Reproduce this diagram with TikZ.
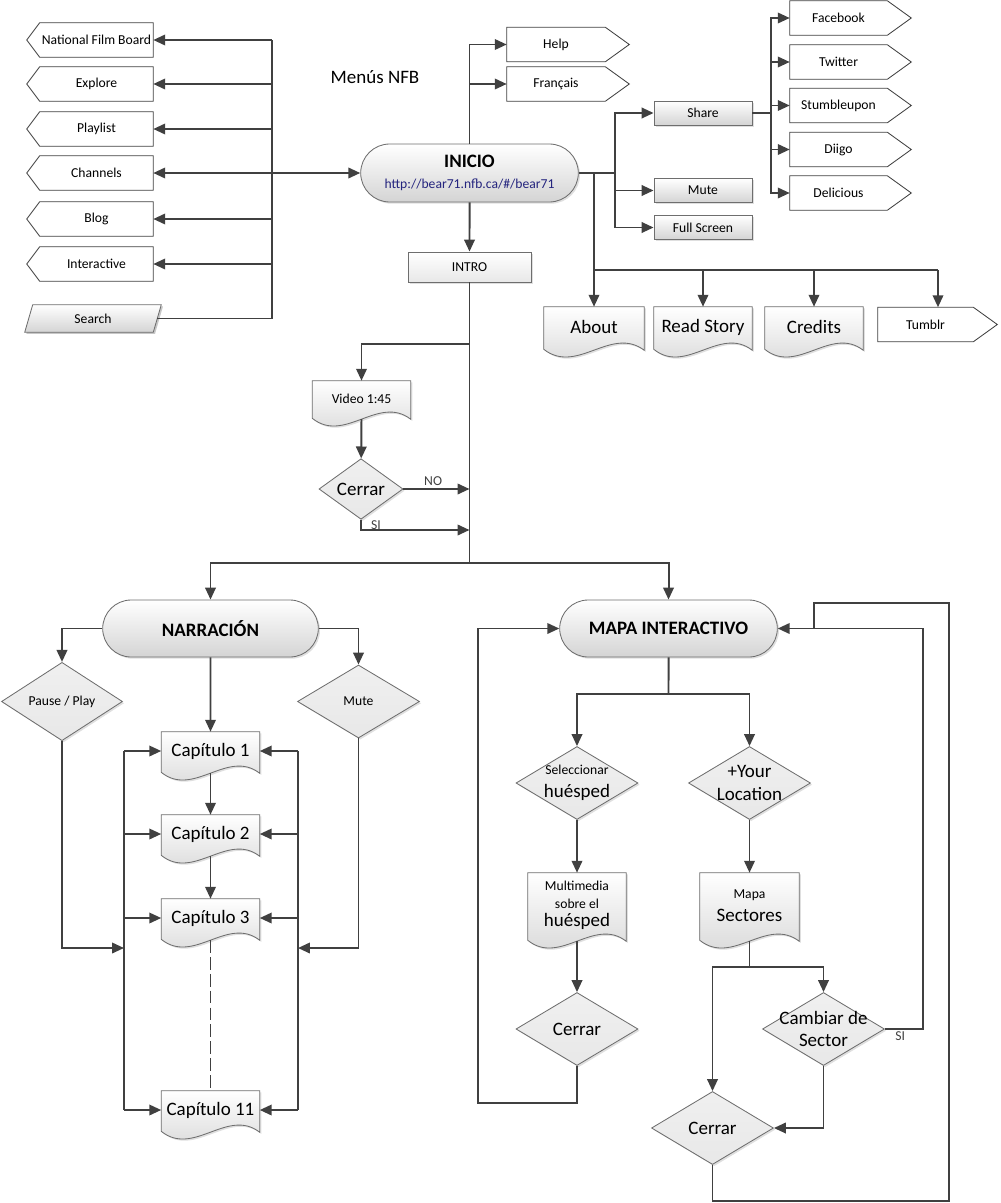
\documentclass[tikz,border=0pt]{standalone}
\usepackage{fontspec}
\setmainfont{Carlito}
\usepackage{tikz}
\usetikzlibrary{arrows.meta,calc,shapes.geometric,shapes.misc,shadows,backgrounds}
\definecolor{wire}{HTML}{404040}
\definecolor{rim}{HTML}{6E6E6E}
\definecolor{shade}{HTML}{D4D4D4}
\definecolor{paleshade}{HTML}{E8E8E8}
\definecolor{urlblue}{HTML}{24247E}
\newcommand{\pxl}{0.025cm}
\newcommand{\smalltxt}{\fontsize{9.7}{11.5}\selectfont}
\newcommand{\bigtxt}{\fontsize{13.5}{16}\selectfont}
\tikzset{
  link/.style={wire, line width=1.4pt},
  arr/.style={link, -{Triangle[length=8.5pt,width=7.5pt]}},
  softshadow/.style={drop shadow={shadow xshift=1.2pt, shadow yshift=-1.2pt, opacity=.25}},
  tagbox/.style={inner sep=0pt, minimum height=34*\pxl, font=\smalltxt},
  tagline/.style={draw=wire, line width=0.6pt},
  button/.style={rectangle, draw=rim, line width=0.6pt, top color=white, bottom color=shade,
    minimum width=98*\pxl, minimum height=24*\pxl, inner sep=0pt, font=\smalltxt, softshadow},
  pill/.style={rounded rectangle, draw=rim, line width=0.6pt, top color=white, bottom color=shade,
    minimum width=227*\pxl, minimum height=57*\pxl, font=\bigtxt\bfseries, softshadow},
  choice/.style={diamond, draw=rim, line width=0.6pt, top color=white!94!black, bottom color=paleshade,
    inner sep=0pt, minimum width=122*\pxl, minimum height=73*\pxl, font=\smalltxt, softshadow},
  choicetext/.style={font=\bigtxt, align=center, inner sep=0pt},
  sheetbox/.style={inner sep=0pt, minimum width=98*\pxl, font=\bigtxt, align=center},
  sheetpaint/.style={draw=rim, line width=0.6pt, top color=white, bottom color=shade, softshadow},
  flag/.style={font=\smalltxt, inner sep=1.5pt},
}
% document sheet: the node is the flat part, the wavy foot is painted behind it
\newcommand{\sheet}[6][]{%
  \node[sheetbox, minimum width=#4*\pxl, minimum height=#5*\pxl, #1] (#2) at (#3) {#6};
  \begin{pgfonlayer}{background}
    \path[sheetpaint] (#2.north west) -- (#2.north east) -- ($(#2.south east)+(0,3)$)
      .. controls ($(#2.south)+(17,-22)$) and ($(#2.south)+(-17,28)$) .. ($(#2.south west)+(0,2)$) -- cycle;
  \end{pgfonlayer}}
% menu entries shaped as tags, pointing left or right
\newcommand{\tagleft}[3]{%
  \node[tagbox, minimum width=113*\pxl] (#1) at (#2) {#3};
  \draw[tagline] (#1.north east) -- (#1.north west) -- ($(#1.west)+(-13,0)$) -- (#1.south west) -- (#1.south east) -- cycle;}
\newcommand{\tagright}[4]{%
  \node[tagbox, minimum width=#3*\pxl] (#1) at (#2) {#4};
  \draw[tagline] (#1.north west) -- (#1.north east) -- ($(#1.east)+(24,0)$) -- (#1.south east) -- (#1.south west) -- cycle;}

\begin{document}
\begin{tikzpicture}[x=0.025cm, y=-0.025cm]
  \useasboundingbox (0,0) rectangle (1000,1203);
  % ---------------- left: site menu ----------------
  \tagleft{nfb}{96.5,40}{National Film Board}
  \tagleft{explore}{96.5,84}{Explore}
  \tagleft{playlist}{96.5,129}{Playlist}
  \tagleft{channels}{96.5,173}{Channels}
  \tagleft{blog}{96.5,219}{Blog}
  \tagleft{interactive}{96.5,264}{Interactive}
  \node[tagbox, minimum width=128*\pxl, minimum height=27*\pxl] (search) at (93,318.5) {Search};
  \begin{pgfonlayer}{background}
    \path[sheetpaint, softshadow] ($(search.north west)+(4,0)$) -- ($(search.north east)+(4,0)$)
      -- ($(search.south east)+(-4,0)$) -- ($(search.south west)+(-4,0)$) -- cycle;
  \end{pgfonlayer}
  \node[font=\bigtxt] (title) at (375,77) {Menús NFB};

  % ---------------- home page ----------------
  \node[pill, align=center, minimum height=58*\pxl] (inicio) at (469.5,173)
    {INICIO\\[-1pt]{\smalltxt\mdseries\color{urlblue}http://bear71.nfb.ca/\#/bear71}};
  \coordinate (menuhub) at (272,173);
  \draw[link] (menuhub |- nfb) -- (menuhub |- search);
  \foreach \m in {nfb,explore,playlist,channels,blog,interactive} \draw[arr] (menuhub |- \m) -- (\m);
  \draw[link] (search) -- (menuhub |- search);
  \draw[arr] (menuhub) -- (inicio);

  \tagright{help}{556,44.5}{98}{Help}
  \tagright{francais}{556,84}{98}{Français}
  \draw[arr] (inicio.north) |- (help);
  \draw[arr] (inicio.north) |- (francais);

  % ---------------- right: page tools and sharing ----------------
  \coordinate (sidefork) at (594,173);
  \coordinate (sidehub) at (615,173);
  \node[button] (share) at (703,113) {Share};
  \node[button] (mute) at (703,190.5) {Mute};
  \node[button] (fullscreen) at (703,227.5) {Full Screen};
  \draw[link] (inicio.east) -- (sidehub);
  \foreach \t in {share,mute,fullscreen} \draw[arr] (sidehub) |- (\t);

  \coordinate (sharehub) at (771,113);
  \tagright{facebook}{838.5,18}{97}{Facebook}
  \tagright{twitter}{838.5,62}{97}{Twitter}
  \tagright{stumbleupon}{838.5,105.5}{97}{Stumbleupon}
  \tagright{diigo}{838.5,149.5}{97}{Diigo}
  \tagright{delicious}{838.5,193}{97}{Delicious}
  \draw[link] (share.east) -- (sharehub);
  \foreach \t in {facebook,twitter,stumbleupon,diigo,delicious} \draw[arr] (sharehub) |- (\t);

  \coordinate (rowbar) at (594,270);
  \sheet{about}{594,327}{100}{40}{About}
  \sheet{story}{703,327}{98}{40}{Read Story}
  \sheet{credits}{814,327}{98}{40}{Credits}
  \tagright{tumblr}{925.5,324.5}{95}{Tumblr}
  \coordinate (tumblrtop) at ($(tumblr.north)+(12.5,0)$);
  \draw[link] (sidefork) -- (rowbar) -- (rowbar -| tumblrtop);
  \foreach \t in {about,story,credits} \draw[arr] (rowbar -| \t) -- (\t);
  \draw[arr] (rowbar -| tumblrtop) -- (tumblrtop);

  % ---------------- intro video ----------------
  \node[button, minimum width=123*\pxl, minimum height=30*\pxl, bottom color=paleshade] (intro) at (469.5,267) {INTRO};
  \draw[arr] (inicio) -- (intro);
  \coordinate (videojoin) at (469.5,344);
  \coordinate (nojoin) at (469.5,489);
  \coordinate (sijoin) at (469.5,530);
  \coordinate (split) at (469.5,563);
  \draw[link] (intro) -- (split);
  \sheet[font=\smalltxt]{video}{361.5,398.5}{98}{35}{Video 1:45}
  \node[choice, minimum width=84*\pxl, minimum height=48*\pxl, font=\bigtxt] (close1) at (361,489) {Cerrar};
  \draw[arr] (videojoin) -| (video);
  \draw[arr] ([yshift=-2pt]video.south) -- (close1);
  \draw[arr] (close1.east) -- node[flag, above, pos=0.45] {NO} (nojoin);
  \draw[arr] (close1.south) |- node[flag, right=5pt, pos=0.25] {SI} (sijoin);

  % ---------------- narration ----------------
  \node[pill, minimum width=225*\pxl] (narracion) at (210.5,628.5) {NARRACIÓN};
  \node[choice, minimum width=121*\pxl] (pause) at (62,701.5) {Pause / Play};
  \node[choice] (mutenarr) at (358.5,701.5) {Mute};
  \draw[arr] (split) -| (narracion);
  \draw[arr] (narracion.west) -| (pause);
  \draw[arr] (narracion.east) -| (mutenarr);

  \sheet{cap1}{210.5,751}{98}{38}{Capítulo 1}
  \sheet{cap2}{210.5,834}{98}{38}{Capítulo 2}
  \sheet{cap3}{210.5,918}{98}{38}{Capítulo 3}
  \sheet{cap11}{210.5,1110}{98}{38}{Capítulo 11}
  \draw[arr] (narracion) -- (cap1);
  \draw[arr] ([yshift=-2pt]cap1.south) -- (cap2);
  \draw[arr] ([yshift=-2pt]cap2.south) -- (cap3);
  \draw[link, line width=0.9pt, dash pattern=on 9pt off 3pt] ([yshift=-2pt]cap3.south) -- (cap11);
  \coordinate (leftrail) at (124,948);
  \coordinate (rightrail) at (298,948);
  \draw[link] (leftrail |- cap1) -- (leftrail |- cap11);
  \draw[link] (rightrail |- cap1) -- (rightrail |- cap11);
  \foreach \c in {cap1,cap2,cap3,cap11} {
    \draw[arr] (leftrail |- \c) -- (\c);
    \draw[arr] (rightrail |- \c) -- (\c);
  }
  \draw[arr] (pause) |- (leftrail);
  \draw[arr] (mutenarr) |- (rightrail);

  % ---------------- interactive map ----------------
  \node[pill] (mapa) at (668.5,628.5) {MAPA INTERACTIVO};
  \draw[arr] (split) -| (mapa);
  \coordinate (mapfork) at (668.5,694);
  \draw[link] (mapa) -- (mapfork);
  \node[choice, label={[choicetext]center:{\smalltxt Seleccionar}\\huésped}] (select) at (577,783) {};
  \node[choice, label={[choicetext]center:+Your\\Location}] (locate) at (749.5,783) {};
  \draw[arr] (mapfork) -| (select);
  \draw[arr] (mapfork) -| (locate);

  \sheet[font=\fontsize{13.5}{13}\selectfont]{media}{577,905.5}{98}{65}{{\smalltxt Multimedia}\\{\smalltxt sobre el}\\huésped}
  \sheet{sectors}{749.5,905.5}{99}{65}{{\smalltxt Mapa}\\Sectores}
  \draw[arr] (select) -- (media);
  \draw[arr] (locate) -- (sectors);

  \node[choice, font=\bigtxt] (close2) at (577,1029) {Cerrar};
  \draw[arr] ([yshift=-2pt]media.south) -- (close2);
  \coordinate (leftloop) at (478,1103);
  \draw[arr] (close2) |- (leftloop) |- (mapa);

  \coordinate (sectfork) at (749.5,967);
  \node[choice, label={[choicetext]center:Cambiar de\\Sector}] (change) at (823.5,1029) {};
  \node[choice, font=\bigtxt] (close3) at (712.5,1128) {Cerrar};
  \draw[link] ([yshift=-2pt]sectors.south) -- (sectfork);
  \draw[arr] (sectfork) -| (change);
  \draw[arr] (sectfork) -| (close3);
  \draw[arr] (change) |- (close3);
  \coordinate (siloop) at (923,1029);
  \draw[arr] (change) -- node[flag, below, pos=0.4] {SI} (siloop) |- (mapa);
  \coordinate (outerfoot) at (949,1201);
  \coordinate (outertop) at (814,603);
  \draw[link] (close3) |- (outerfoot) |- (outertop) -- (outertop |- mapa);
\end{tikzpicture}
\end{document}
